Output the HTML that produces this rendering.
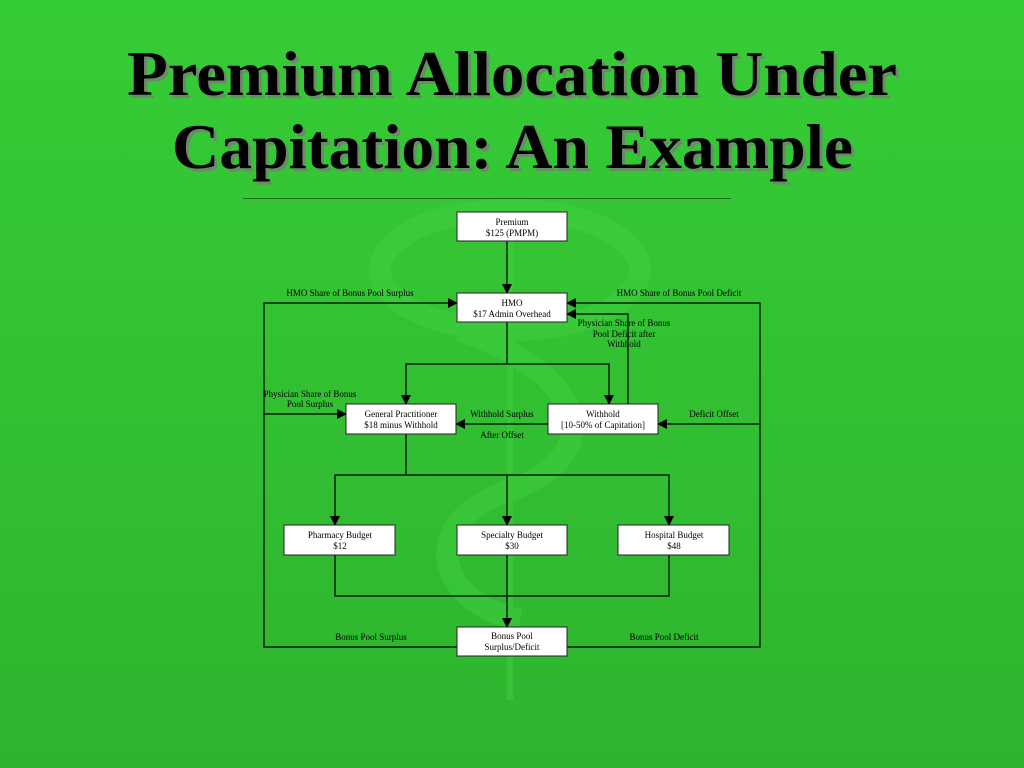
<!DOCTYPE html>
<html><head><meta charset="utf-8"><style>
html,body{margin:0;padding:0;width:1024px;height:768px;overflow:hidden}
svg{display:block}
</style></head><body>
<svg width="1024" height="768" viewBox="0 0 1024 768" xmlns="http://www.w3.org/2000/svg" font-family="Liberation Serif, serif">
<defs>
<linearGradient id="bg" x1="0" y1="0" x2="0" y2="1">
<stop offset="0" stop-color="#36cc36"/><stop offset="1" stop-color="#2fb42f"/>
</linearGradient>
<marker id="a" markerWidth="10" markerHeight="10" refX="9" refY="5" orient="auto" markerUnits="userSpaceOnUse">
<path d="M0,0 L10,5 L0,10 z" fill="#000"/>
</marker>
</defs>
<rect width="1024" height="768" fill="url(#bg)"/>
<!-- faint watermark -->
<g fill="none" stroke="#40d040" stroke-width="22" opacity="0.5">
<ellipse cx="510" cy="270" rx="130" ry="60"/>
<path d="M460,330 C600,380 600,460 510,490 C420,520 430,600 520,620"/>
<line x1="510" y1="230" x2="510" y2="700" stroke-width="6"/>
</g>
<g font-weight="bold" font-size="64" fill="#000">
<text x="130" y="98" textLength="770" lengthAdjust="spacingAndGlyphs" fill="#6a8a6a">Premium Allocation Under</text>
<text x="127" y="95" textLength="770" lengthAdjust="spacingAndGlyphs">Premium Allocation Under</text>
<text x="175" y="171" textLength="681" lengthAdjust="spacingAndGlyphs" fill="#6a8a6a">Capitation: An Example</text>
<text x="172" y="168" textLength="681" lengthAdjust="spacingAndGlyphs">Capitation: An Example</text>
</g>
<line x1="243" y1="198.5" x2="731" y2="198.5" stroke="#1a6a1a" stroke-width="1"/>

<g stroke="#000" stroke-width="1.2" fill="none">
<line x1="507" y1="241" x2="507" y2="293" marker-end="url(#a)"/>
<polyline points="507,322 507,364 406,364 406,404" marker-end="url(#a)"/>
<polyline points="507,364 609,364 609,404" marker-end="url(#a)"/>
<polyline points="628,404 628,314 567,314" marker-end="url(#a)"/>
<polyline points="457,647 264,647 264,303 457,303" marker-end="url(#a)"/>
<line x1="264" y1="414" x2="346" y2="414" marker-end="url(#a)"/>
<polyline points="567,647 760,647 760,303 567,303" marker-end="url(#a)"/>
<line x1="760" y1="424" x2="658" y2="424" marker-end="url(#a)"/>
<line x1="548" y1="424" x2="456" y2="424" marker-end="url(#a)"/>
<polyline points="406,434 406,475 335,475 335,525" marker-end="url(#a)"/>
<polyline points="406,475 669,475 669,525" marker-end="url(#a)"/>
<line x1="507" y1="475" x2="507" y2="525" marker-end="url(#a)"/>
<polyline points="335,555 335,596 669,596 669,555"/>
<line x1="507" y1="555" x2="507" y2="627" marker-end="url(#a)"/>
</g>
<g fill="#fff" stroke="#222" stroke-width="1">
<rect x="457" y="212" width="110" height="29"/>
<rect x="457" y="293" width="110" height="29"/>
<rect x="346" y="404" width="110" height="30"/>
<rect x="548" y="404" width="110" height="30"/>
<rect x="284" y="525" width="111" height="30"/>
<rect x="457" y="525" width="110" height="30"/>
<rect x="618" y="525" width="111" height="30"/>
<rect x="457" y="627" width="110" height="29"/>
</g>
<g font-size="9" fill="#000" text-anchor="middle">
<text x="512" y="225">Premium</text><text x="512" y="236">$125 (PMPM)</text>
<text x="512" y="306">HMO</text><text x="512" y="317">$17 Admin Overhead</text>
<text x="401" y="417">General Practitioner</text><text x="401" y="428">$18 minus Withhold</text>
<text x="603" y="417">Withhold</text><text x="603" y="428">[10-50%  of Capitation]</text>
<text x="340" y="538">Pharmacy Budget</text><text x="340" y="549">$12</text>
<text x="512" y="538">Specialty Budget</text><text x="512" y="549">$30</text>
<text x="674" y="538">Hospital Budget</text><text x="674" y="549">$48</text>
<text x="512" y="639">Bonus Pool</text><text x="512" y="650">Surplus/Deficit</text>
<text x="350" y="296">HMO Share of Bonus Pool Surplus</text>
<text x="679" y="296">HMO Share of Bonus Pool Deficit</text>
<text x="624" y="326">Physician Share of Bonus</text>
<text x="624" y="337">Pool Deficit after</text>
<text x="624" y="347">Withhold</text>
<text x="310" y="397">Physician Share of Bonus</text>
<text x="310" y="407">Pool Surplus</text>
<text x="502" y="417">Withhold Surplus</text>
<text x="502" y="438">After Offset</text>
<text x="714" y="417">Deficit Offset</text>
<text x="371" y="640">Bonus Pool Surplus</text>
<text x="664" y="640">Bonus Pool Deficit</text>
</g>
</svg>
</body></html>
